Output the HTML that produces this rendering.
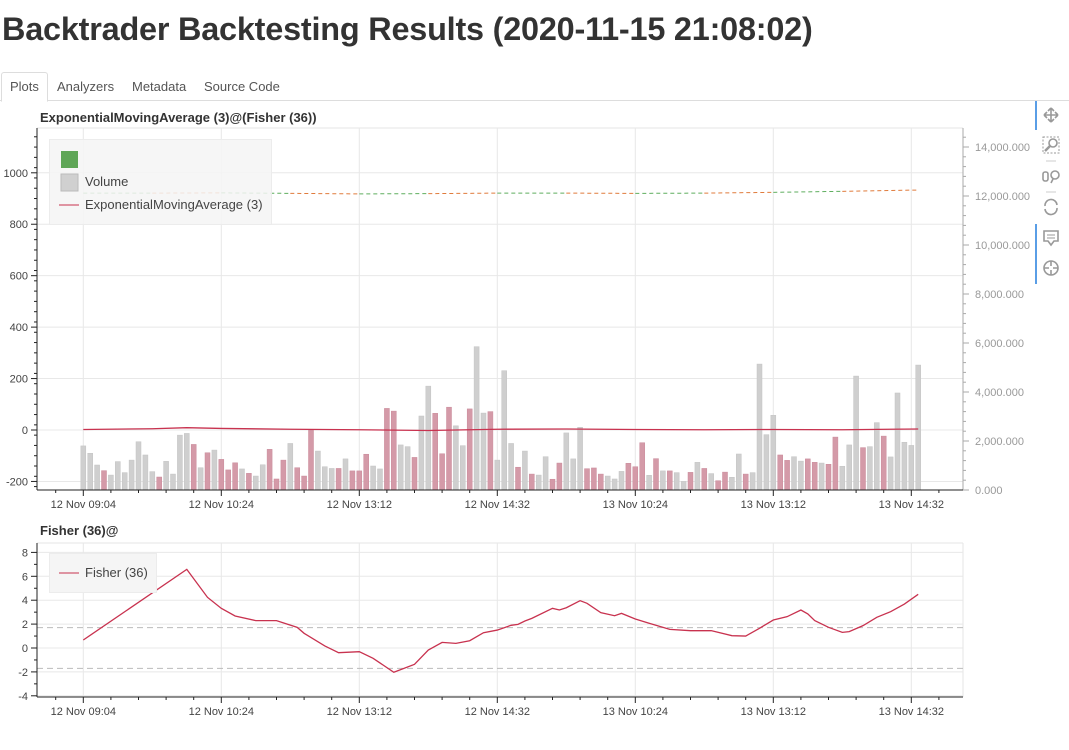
<!DOCTYPE html>
<html><head><meta charset="utf-8"><style>
html,body{margin:0;padding:0;background:#fff;width:1069px;height:750px;overflow:hidden;font-family:"Liberation Sans",sans-serif}
h1{position:absolute;left:2px;top:11px;margin:0;font-size:32.4px;font-weight:bold;color:#333;letter-spacing:-0.2px}
.tabs{position:absolute;left:0;top:72px;width:1069px;height:28px;border-bottom:1px solid #ddd}
.tab{position:absolute;top:1px;height:28px;line-height:28px;font-size:13px;color:#555}
.tab.active{border:1px solid #ddd;border-bottom:1px solid #fff;border-radius:3px 3px 0 0;background:#fff;color:#555;padding:0 8px;top:0}
svg{position:absolute;left:0;top:0}
</style></head><body>
<h1>Backtrader Backtesting Results (2020-11-15 21:08:02)</h1>
<div class="tabs">
<div class="tab active" style="left:1px">Plots</div>
<div class="tab" style="left:57px">Analyzers</div>
<div class="tab" style="left:132px">Metadata</div>
<div class="tab" style="left:204px">Source Code</div>
</div>
<svg id="chart" width="1069" height="750"></svg>
<script>
const volumes=[1.8,1.5,1.02,0.79,0.61,1.16,0.71,1.22,1.97,1.43,0.75,0.53,1.17,0.65,2.24,2.31,1.86,0.91,1.52,1.63,1.25,0.82,1.11,0.86,0.68,0.57,1.03,1.66,0.45,1.22,1.9,0.91,0.57,2.45,1.59,0.95,0.88,0.88,1.27,0.78,0.78,1.46,0.98,0.86,3.33,3.22,1.84,1.77,1.33,3.02,4.24,3.13,1.48,3.38,2.62,1.81,3.31,5.85,3.14,3.2,1.22,4.87,1.9,0.93,1.59,0.65,0.61,1.36,0.44,1.1,2.33,1.27,2.56,0.87,0.9,0.65,0.57,0.45,0.76,1.09,0.95,1.93,0.6,1.28,0.78,0.78,0.71,0.35,0.72,1.13,0.88,0.67,0.38,0.73,0.52,1.47,0.65,0.71,5.14,2.26,3.05,1.43,1.21,1.36,1.18,1.27,1.13,1.1,1.05,2.16,0.97,1.84,4.65,1.73,1.77,2.75,2.2,1.35,3.96,1.95,1.82,5.1];
const volDown="gggrgggggg"+"grggggrgrg"+"rrrgrggrrr"+"grrrgggrgr"+"rrggrrggrg"+"grrrggrggr"+"gggrgrggrr"+"gggrrrgggr"+"rrgrgrggrg"+"rgrrggrggg"+"grrggrrgrr"+"gggrggrggg"+"gg";
const tickLabels=["12 Nov 09:04","12 Nov 10:24","12 Nov 13:12","12 Nov 14:32","13 Nov 10:24","13 Nov 13:12","13 Nov 14:32"];
const tickIdx=[0,20,40,60,80,100,120];
const fisherIdx=[0,15,18,20,22,25,28,31,32,35,37,40,42,45,48,50,52,54,56,58,60,62,63,64,65,68,69,70,72,73,75,77,78,80,82,85,88,91,94,96,98,100,102,104,105,106,108,110,111,113,115,117,119,121];
const fisherVal=[0.67,6.58,4.24,3.32,2.68,2.29,2.29,1.73,1.23,0.17,-0.39,-0.31,-0.86,-2.03,-1.37,-0.17,0.47,0.39,0.61,1.28,1.5,1.9,1.98,2.26,2.48,3.32,3.18,3.37,3.96,3.74,2.96,2.7,2.9,2.43,2.07,1.56,1.45,1.45,1.03,1.0,1.65,2.34,2.62,3.18,2.85,2.29,1.73,1.31,1.37,1.87,2.57,3.04,3.68,4.49];
const emaIdx=[0,10,15,20,30,40,50,60,70,80,90,100,110,121];
const emaVal=[2,5,9,6,3,1,-2,3,4,2,1,2,1,4];
const priceIdx=[0,10,20,30,40,50,60,70,80,90,100,110,121];
const priceVal=[921,921,922,920,918,919,921,921,920,921,924,928,933];
const leftTicks=[1000,800,600,400,200,0,-200];
const rightTicks=[0,2,4,6,8,10,12,14];
const fisherTicks=[8,6,4,2,0,-2,-4];
const bands=[1.7,-1.7];

const S=document.getElementById('chart');const NS="http://www.w3.org/2000/svg";
function el(t,a,p){const e=document.createElementNS(NS,t);for(const k in a)e.setAttribute(k,a[k]);(p||S).appendChild(e);return e;}
const X0=37,X1=963;
const xs=i=>83.3+6.9*i;
const yL=v=>430-v*0.2572;
const yR=v=>490-v*24.5;
const yF=v=>648-v*11.95;
function txt(x,y,s,o,p){const t=el('text',Object.assign({x:x,y:y,'font-size':11,fill:'#444','font-family':'Liberation Sans, sans-serif'},o||{}),p);t.textContent=s;return t;}

// ===== top panel =====
let g=el('g',{});
el('line',{x1:X0,y1:128,x2:X1,y2:128,stroke:'#e5e5e5'},g);
let t=txt(40,122,'ExponentialMovingAverage (3)@(Fisher (36))',{'font-weight':'bold','font-size':13,fill:'#333'},g);

leftTicks.forEach(v=>{el('line',{x1:X0,y1:yL(v),x2:X1,y2:yL(v),stroke:'#e8e8e8'},g);});
tickIdx.forEach(i=>{el('line',{x1:xs(i),y1:128,x2:xs(i),y2:490,stroke:'#e8e8e8'},g);});
volumes.forEach((v,i)=>{const r=el('rect',{x:xs(i)-2.5,y:yR(v),width:5,height:490-yR(v),fill:volDown[i]==='r'?'#d49aa8':'#cfcfcf',stroke:volDown[i]==='r'?'#c98a9a':'#c4c4c4','stroke-width':0.5},g);
});
for(let k=0;k<priceIdx.length-1;k++){const l=el('line',{x1:xs(priceIdx[k]),y1:yL(priceVal[k]),x2:xs(priceIdx[k+1]),y2:yL(priceVal[k+1]),stroke:k%2?'#e07b3c':'#5fae5f','stroke-dasharray':'4 3','stroke-width':1},g);
}
let ep=el('polyline',{points:emaIdx.map((i,k)=>xs(i)+','+yL(emaVal[k])).join(' '),fill:'none',stroke:'#c8324f','stroke-width':1.3},g);

el('line',{x1:X0,y1:128,x2:X0,y2:490,stroke:'#222'},g);
leftTicks.forEach(v=>{el('line',{x1:X0-6,y1:yL(v),x2:X0,y2:yL(v),stroke:'#222'},g);txt(X0-9,yL(v)+4,String(v),{'text-anchor':'end'},g);});
for(let v=-220;v<=1160;v+=40){if(v%200!==0&&yL(v)>128&&yL(v)<490)el('line',{x1:X0-3,y1:yL(v),x2:X0,y2:yL(v),stroke:'#222'},g);}
el('line',{x1:X1,y1:128,x2:X1,y2:490,stroke:'#aaa'},g);
rightTicks.forEach(v=>{el('line',{x1:X1,y1:yR(v),x2:X1+6,y2:yR(v),stroke:'#aaa'},g);txt(X1+12,yR(v)+4,(v===0?'0':v.toLocaleString('en-US')+',000')+'.000',{fill:'#999'},g);});
for(let v=0.4;v<14.7;v+=0.4){if(Math.abs(v/2-Math.round(v/2))>0.01)el('line',{x1:X1,y1:yR(v),x2:X1+3,y2:yR(v),stroke:'#aaa'},g);}
function xAxis(y,gg){el('line',{x1:X0,y1:y,x2:X1,y2:y,stroke:'#222'},gg);
tickIdx.forEach((i,k)=>{el('line',{x1:xs(i),y1:y,x2:xs(i),y2:y+6,stroke:'#222'},gg);txt(xs(i),y+18,tickLabels[k],{'text-anchor':'middle'},gg);});
for(let i=-4;i<=124;i+=4){if(i%20!==0&&xs(i)>X0&&xs(i)<X1)el('line',{x1:xs(i),y1:y,x2:xs(i),y2:y+3,stroke:'#222'},gg);}}
xAxis(490,g);
let lg=el('g',{},g);
el('rect',{x:49.5,y:139.5,width:222,height:85,fill:'#f5f5f5','fill-opacity':0.85,stroke:'#ececec'},lg);
el('rect',{x:61,y:151,width:17,height:17,fill:'#5fa657'},lg);
el('rect',{x:61,y:174,width:17,height:17,fill:'#d0d0d0',stroke:'#bbb'},lg);
txt(85,186,'Volume',{'font-size':13},lg);
el('line',{x1:59,y1:205,x2:79,y2:205,stroke:'#c8324f'},lg);
txt(85,209,'ExponentialMovingAverage (3)',{'font-size':13},lg);

// ===== fisher panel =====
let f=el('g',{});
t=txt(40,535,'Fisher (36)@',{'font-weight':'bold','font-size':13,fill:'#333'},f);

el('line',{x1:X0,y1:543,x2:X1,y2:543,stroke:'#e5e5e5'},f);
el('line',{x1:X1,y1:543,x2:X1,y2:697,stroke:'#e5e5e5'},f);
fisherTicks.forEach(v=>{el('line',{x1:X0,y1:yF(v),x2:X1,y2:yF(v),stroke:'#e8e8e8'},f);});
tickIdx.forEach(i=>{el('line',{x1:xs(i),y1:543,x2:xs(i),y2:697,stroke:'#e8e8e8'},f);});
bands.forEach(b=>{const l=el('line',{x1:X0,y1:yF(b),x2:X1,y2:yF(b),stroke:'#bbb','stroke-dasharray':'6 4'},f);});
let fl=el('polyline',{points:fisherIdx.map((i,k)=>xs(i)+','+yF(fisherVal[k])).join(' '),fill:'none',stroke:'#c8324f','stroke-width':1.3},f);

el('line',{x1:X0,y1:543,x2:X0,y2:697,stroke:'#222'},f);
fisherTicks.forEach(v=>{el('line',{x1:X0-6,y1:yF(v),x2:X0,y2:yF(v),stroke:'#222'},f);txt(X0-9,yF(v)+4,String(v),{'text-anchor':'end'},f);});
for(let v=-4;v<=8;v+=1){if(v%2)el('line',{x1:X0-3,y1:yF(v),x2:X0,y2:yF(v),stroke:'#222'},f);}
xAxis(697,f);
let fg=el('g',{},f);
el('rect',{x:49.5,y:553.5,width:107,height:39,fill:'#f5f5f5',stroke:'#ececec'},fg);
el('line',{x1:59,y1:573,x2:79,y2:573,stroke:'#c8324f'},fg);
txt(85,577,'Fisher (36)',{'font-size':13},fg);

// ===== toolbar =====
let tb=el('g',{});
el('line',{x1:1036,y1:101,x2:1036,y2:130,stroke:'#5a9ee6','stroke-width':2},tb);
el('line',{x1:1036,y1:224,x2:1036,y2:284,stroke:'#5a9ee6','stroke-width':2},tb);
function ic(name,y){const gg=el('g',{transform:'translate(1051,'+y+')',stroke:'#999',fill:'none','stroke-width':1.6},tb);return gg;}
let a=ic('pan-tool',115);el('path',{d:'M-7 0H7M0 -7V7M-7 0l3-3M-7 0l3 3M7 0l-3-3M7 0l-3 3M0 -7l-3 3M0 -7l3 3M0 7l-3-3M0 7l3-3'},a);
a=ic('box-zoom-tool',145);el('rect',{x:-8,y:-8,width:16,height:16,'stroke-dasharray':'2 1.5','stroke-width':1},a);el('circle',{cx:2,cy:-2,r:4},a);el('line',{x1:-1,y1:1,x2:-6,y2:6,'stroke-width':2.5},a);
a=ic('wheel-zoom-tool',176);el('rect',{x:-8,y:-4,width:5,height:9,rx:2},a);el('circle',{cx:4,cy:-1,r:4},a);el('line',{x1:2,y1:3,x2:0,y2:7},a);
a=ic('reset-tool',207);el('path',{d:'M-6 -1A6 6 0 0 1 6 -2M6 1A6 6 0 0 1 -6 2'},a);
a=ic('hover-tool',238);el('path',{d:'M-7 -7H7V3H3L0 7L-3 3H-7Z'},a);el('path',{d:'M-4 -3H4M-4 0H4','stroke-width':1},a);
a=ic('crosshair-tool',268);el('circle',{cx:0,cy:0,r:7},a);el('path',{d:'M0 -7V-2M0 2V7M-7 0H-2M2 0H7'},a);
[161,192].forEach(y=>el('line',{x1:1046,y1:y,x2:1056,y2:y,stroke:'#ccc'},tb));
</script>
</body></html>
